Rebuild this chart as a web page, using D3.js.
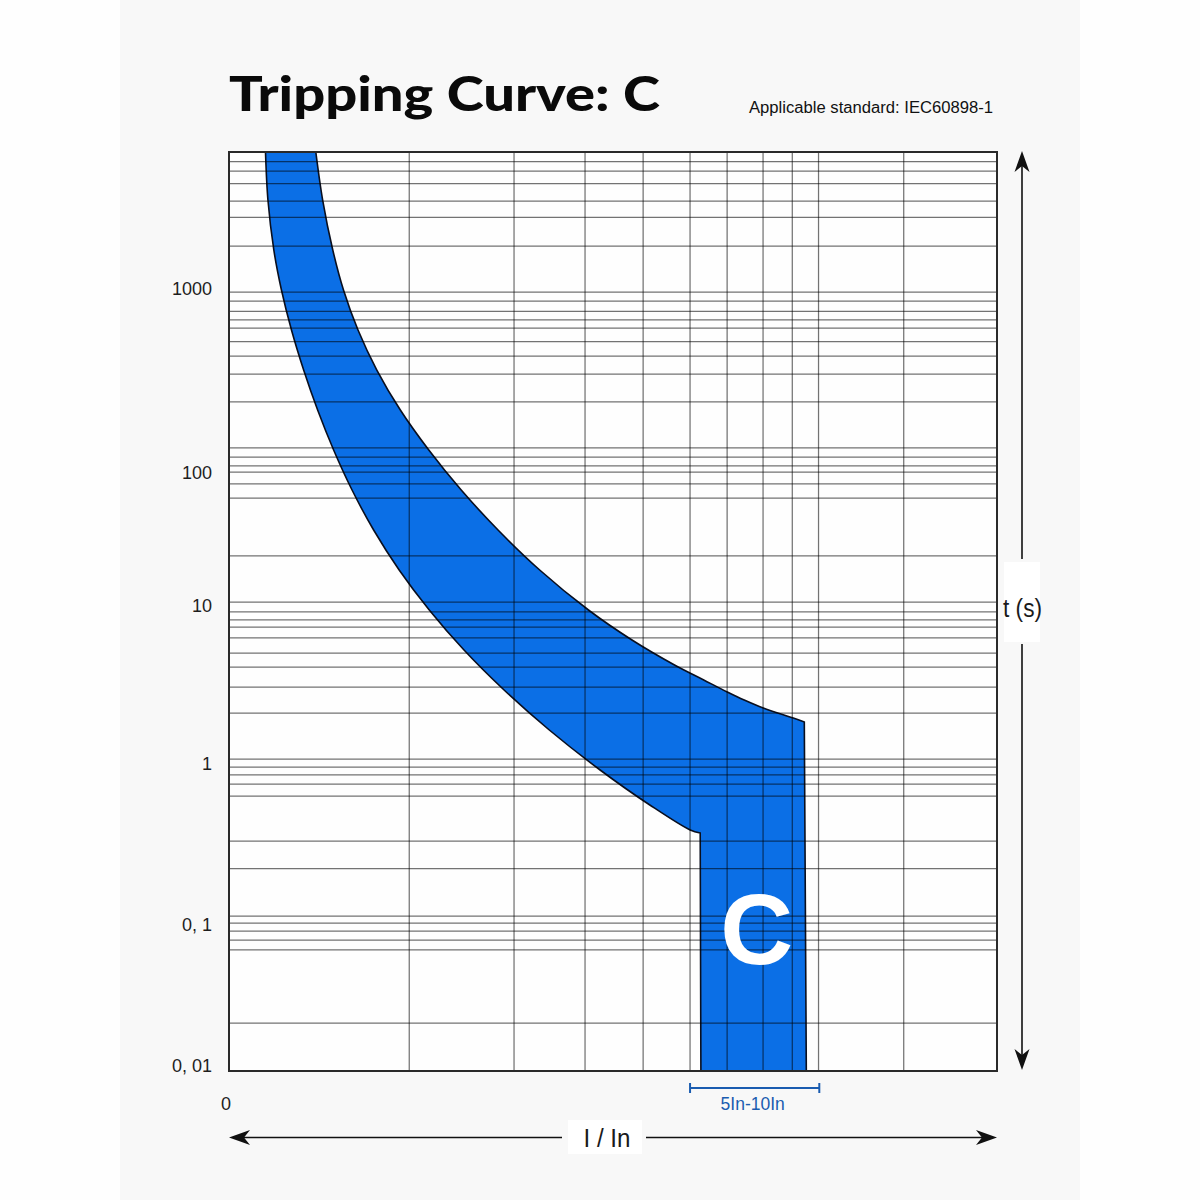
<!DOCTYPE html>
<html><head><meta charset="utf-8">
<script src="https://cdn.jsdelivr.net/npm/d3@7"></script>
<style>html,body{margin:0;padding:0;background:#fff}</style>
</head><body><svg id="c" width="1200" height="1200" xmlns="http://www.w3.org/2000/svg"></svg>
<script>
// ---------- data ----------
const xGridValues = [2.02, 3.04, 4.01, 5.03, 6.04, 6.98, 8.03, 9.0, 9.97, 13.9];
const yGridValues = [5300, 4700, 4000, 3200, 2600, 1800, 1000, 890, 780, 700, 630, 530, 440, 350, 245,
  136, 121, 108, 100, 81, 63, 22.6, 10, 8.64, 7.68, 6.93, 5.9, 4.73, 3.85, 2.87, 1.96,
  1, 0.889, 0.791, 0.693, 0.581, 0.3, 0.2, 0.1, 0.0901, 0.080, 0.070, 0.0604, 0.0204];
const yTickValues = [1000, 100, 10, 1, 0.1, 0.01];
const yTickLabels = ["1000", "100", "10", "1", "0, 1", "0, 01"];
// upper time limit (right edge of band): current I/In and time t (s)
const upperCurveI = [1.403, 1.441, 1.499, 1.563, 1.654, 1.780, 1.951, 2.180, 2.474, 2.856, 3.360, 4.064, 4.816, 5.685, 6.372, 6.984, 7.462, 8.037, 9.035, 9.432];
const upperCurveT = [6000, 3244, 1712, 1026, 615, 368.6, 221, 132.5, 72.7, 35.8, 17.63, 8.893, 5.727, 3.970, 3.186, 2.672, 2.375, 2.113, 1.824, 1.721];
const upperInstantI = 9.506;
// lower time limit (left edge of band)
const lowerCurveI = [1.153, 1.164, 1.191, 1.227, 1.276, 1.338, 1.413, 1.504, 1.616, 1.758, 1.942, 2.184, 2.501, 2.924, 3.488, 4.253, 5.163, 6.043, 6.284];
const lowerCurveT = [6000, 3244, 1712, 1026, 615, 368.6, 221, 132.5, 72.7, 35.8, 17.63, 8.893, 4.946, 2.751, 1.530, 0.8509, 0.5093, 0.3530, 0.3378];
const lowerInstantI = 6.301;
const bracketRange = [6.04, 10];
const bracketLabel = "5In-10In";
const curveLetter = "C";
const titleText = "Tripping Curve: C";
const standardText = "Applicable standard: IEC60898-1";
const xAxisTitle = "I / In";
const yAxisTitle = "t (s)";
const xOriginLabel = "0";

// ---------- layout ----------
const L = 229, R = 997, T = 152, B = 1071;
const x = d3.scaleLog().domain([1, 20]).range([L, R]);
const y = d3.scaleLog().domain([0.01, 0.1, 1, 10, 100, 1000, 6000])
  .range([B, 916, 759, 602, 472, 292, T]);

const svg = d3.select("#c");
const FONT = "'Liberation Sans', Arial, Helvetica, sans-serif";

// backgrounds
svg.append("rect").attr("x", 0).attr("y", 0).attr("width", 1200).attr("height", 1200).attr("fill", "#fefefe");
svg.append("rect").attr("x", 120).attr("y", 0).attr("width", 960).attr("height", 1200).attr("fill", "#f8f8f8");
svg.append("rect").attr("x", L).attr("y", T).attr("width", R - L).attr("height", B - T).attr("fill", "#fefefe");

svg.append("defs").append("clipPath").attr("id", "plotclip")
  .append("rect").attr("x", L).attr("y", T).attr("width", R - L).attr("height", B - T);

// band
const line = d3.line().x(d => x(d[0])).y(d => y(d[1])).curve(d3.curveCatmullRom.alpha(0.5));
const lowerPts = lowerCurveI.map((v, i) => [v, lowerCurveT[i]]);
const upperPts = upperCurveI.map((v, i) => [v, upperCurveT[i]]).reverse();
const tMin = y.domain()[0];
let dPath = line(lowerPts);
dPath += `L${x(lowerInstantI)},${y(tMin)}L${x(upperInstantI)},${y(tMin)}`;
dPath += "L" + line(upperPts).slice(1) + "Z";
svg.append("path").attr("d", dPath).attr("clip-path", "url(#plotclip)")
  .attr("fill", "#0b6fe6").attr("stroke", "#0a0f1e").attr("stroke-width", 1.6).attr("stroke-linejoin", "miter");

// grid
const grid = svg.append("g").attr("stroke", "#000").attr("stroke-opacity", 0.55).attr("stroke-width", 1.25);
grid.selectAll("line.h").data(yGridValues).join("line").attr("class", "h")
  .attr("x1", L).attr("x2", R).attr("y1", d => y(d)).attr("y2", d => y(d));
grid.selectAll("line.v").data(xGridValues).join("line").attr("class", "v")
  .attr("y1", T).attr("y2", B).attr("x1", d => x(d)).attr("x2", d => x(d));

// frame
svg.append("rect").attr("x", L).attr("y", T).attr("width", R - L).attr("height", B - T)
  .attr("fill", "none").attr("stroke", "#2a2a2a").attr("stroke-width", 2);

// y tick labels
const tickNudge = [-4, 0, 3, 4, 8, -6];
svg.append("g").selectAll("text").data(yTickValues).join("text")
  .attr("x", 212).attr("y", (d, i) => y(d) + tickNudge[i] + 6.5)
  .attr("text-anchor", "end").attr("font-family", FONT).attr("font-size", 18).attr("fill", "#1e1e1e")
  .text((d, i) => yTickLabels[i]);
svg.append("text").attr("x", 226).attr("y", 1109.5).attr("text-anchor", "middle")
  .attr("font-family", FONT).attr("font-size", 18).attr("fill", "#1e1e1e").text(xOriginLabel);

// big C
svg.append("text").attr("x", (x(lowerInstantI) + x(upperInstantI)) / 2 + 3).attr("y", 964)
  .attr("text-anchor", "middle").attr("font-family", FONT).attr("font-weight", "bold")
  .attr("font-size", 101).attr("fill", "#ffffff").text(curveLetter);

// bracket
const bc = "#1a5cb0";
const by = 1088;
const bg = svg.append("g").attr("stroke", bc).attr("stroke-width", 2);
bg.append("line").attr("x1", x(bracketRange[0])).attr("x2", x(bracketRange[1])).attr("y1", by).attr("y2", by);
bracketRange.forEach(v => bg.append("line").attr("x1", x(v)).attr("x2", x(v)).attr("y1", by - 5).attr("y2", by + 5));
svg.append("text").attr("x", (x(bracketRange[0]) + x(bracketRange[1])) / 2 - 2).attr("y", 1109.5)
  .attr("text-anchor", "middle").attr("font-family", FONT).attr("font-size", 17.5).attr("fill", bc).text(bracketLabel);

// title + standard
svg.append("text").attr("x", L).attr("y", 111).attr("font-family", "Lato, 'Open Sans', sans-serif")
  .attr("font-weight", 900).attr("font-size", 47).attr("fill", "#0a0a0a")
  .attr("textLength", 431).attr("lengthAdjust", "spacingAndGlyphs").text(titleText);
svg.append("text").attr("x", 749).attr("y", 113).attr("font-family", FONT)
  .attr("font-size", 16).attr("fill", "#111").attr("textLength", 244).attr("lengthAdjust", "spacingAndGlyphs")
  .text(standardText);

// axis arrows
function arrowHead(tx, ty, dir) {
  const len = 21, hw = 7.5, notch = 6;
  const [ux, uy] = dir, px = -uy, py = ux;
  const bx = tx - ux * len, byy = ty - uy * len;
  const nx = tx - ux * (len - notch), ny = ty - uy * (len - notch);
  return `M${tx},${ty}L${bx + px * hw},${byy + py * hw}L${nx},${ny}L${bx - px * hw},${byy - py * hw}Z`;
}
const ax = svg.append("g");
const hy = 1137.5, vx = 1022;
ax.append("line").attr("x1", L + 10).attr("x2", 562).attr("y1", hy).attr("y2", hy).attr("stroke", "#111").attr("stroke-width", 1.6);
ax.append("line").attr("x1", 646).attr("x2", R - 10).attr("y1", hy).attr("y2", hy).attr("stroke", "#111").attr("stroke-width", 1.6);
ax.append("path").attr("d", arrowHead(L, hy, [-1, 0])).attr("fill", "#111");
ax.append("path").attr("d", arrowHead(R, hy, [1, 0])).attr("fill", "#111");
ax.append("line").attr("x1", vx).attr("x2", vx).attr("y1", T + 10).attr("y2", 559).attr("stroke", "#111").attr("stroke-width", 1.6);
ax.append("line").attr("x1", vx).attr("x2", vx).attr("y1", 644).attr("y2", B - 10).attr("stroke", "#111").attr("stroke-width", 1.6);
ax.append("path").attr("d", arrowHead(vx, T - 1, [0, -1])).attr("fill", "#111");
ax.append("path").attr("d", arrowHead(vx, B - 1, [0, 1])).attr("fill", "#111");

// axis titles with white boxes
svg.append("rect").attr("x", 568).attr("y", 1120).attr("width", 74).attr("height", 34).attr("fill", "#ffffff");
svg.append("text").attr("x", 607).attr("y", 1146.5).attr("text-anchor", "middle").attr("font-family", FONT)
  .attr("font-size", 25).attr("fill", "#1a1a1a").attr("textLength", 47).attr("lengthAdjust", "spacingAndGlyphs").text(xAxisTitle);
svg.append("rect").attr("x", 1004).attr("y", 562).attr("width", 36).attr("height", 80).attr("fill", "#ffffff");
svg.append("text").attr("x", 1022.5).attr("y", 617).attr("text-anchor", "middle").attr("font-family", FONT)
  .attr("font-size", 25).attr("fill", "#1a1a1a").attr("textLength", 39).attr("lengthAdjust", "spacingAndGlyphs").text(yAxisTitle);
</script></body></html>
